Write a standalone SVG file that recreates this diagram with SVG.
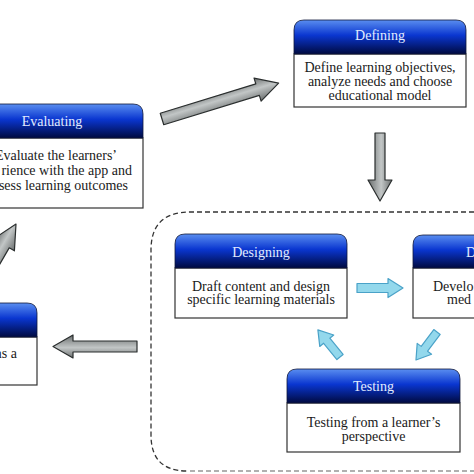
<svg xmlns="http://www.w3.org/2000/svg" width="474" height="474" viewBox="0 0 474 474">
<defs>
<linearGradient id="hdr" x1="0" y1="0" x2="0" y2="1">
<stop offset="0" stop-color="#5a8ef0"/>
<stop offset="0.45" stop-color="#0a36d0"/>
<stop offset="1" stop-color="#000a40"/>
</linearGradient>
<linearGradient id="gray" x1="0" y1="0" x2="0" y2="1">
<stop offset="0" stop-color="#6c7070"/>
<stop offset="0.45" stop-color="#c2c6c6"/>
<stop offset="1" stop-color="#6a6e6e"/>
</linearGradient>
<style>
.hdr{fill:url(#hdr);stroke:#10183a;stroke-width:0.8}
.body{fill:#fff;stroke:#333;stroke-width:1.2}
.ht{font-family:"Liberation Serif",serif;font-size:14px;fill:#e2ecff;text-anchor:middle}
.bt{font-family:"Liberation Serif",serif;font-size:14px;fill:#1a1a1a;text-anchor:middle}
.be{font-family:"Liberation Serif",serif;font-size:14px;fill:#1a1a1a;text-anchor:end}
.bs{font-family:"Liberation Serif",serif;font-size:14px;fill:#1a1a1a;text-anchor:start}
.ga{fill:url(#gray);stroke:#2a2e2e;stroke-width:1.2;stroke-linejoin:round}
.ba{fill:#93d8ec;stroke:#4aa2c8;stroke-width:1.2;stroke-linejoin:round}
.dash{fill:none;stroke:#333;stroke-width:1.3;stroke-dasharray:5 3}
.dashg{fill:none;stroke:#b0b0b0;stroke-width:2;stroke-dasharray:5 3}
</style>
</defs>
<rect width="474" height="474" fill="#fff"/>

<g id="group-border">
<path class="dash" d="M474,212 H190 Q151,212 151,250 V435 Q151,471 187,471"/>
<path class="dashg" d="M190,471 H474"/>
</g>

<g id="defining">
<rect class="body" x="294" y="54" width="172" height="53"/>
<path class="hdr" d="M294,54 V30 Q294,20 304,20 H456 Q466,20 466,30 V54 Z"/>
<text class="ht" x="380" y="40">Defining</text>
<text class="bt" x="380" y="72">Define learning objectives,</text>
<text class="bt" x="380" y="86">analyze needs and choose</text>
<text class="bt" x="380" y="100">educational model</text>
</g>

<g id="evaluating">
<rect class="body" x="-39" y="138" width="182" height="70"/>
<path class="hdr" d="M-39,138 V114 Q-39,104 -29,104 H133 Q143,104 143,114 V138 Z"/>
<text class="ht" x="52" y="126">Evaluating</text>
<text class="be" x="117" y="160">Evaluate the learners’</text>
<text class="be" x="132" y="175">rience with the app and</text>
<text class="be" x="128" y="190">sess learning outcomes</text>
</g>

<g id="using">
<rect class="body" x="-135" y="337" width="172" height="48"/>
<path class="hdr" d="M-135,337 V313 Q-135,303 -125,303 H27 Q37,303 37,313 V337 Z"/>
<text class="be" x="17" y="358">as a</text>
</g>

<g id="designing">
<rect class="body" x="175" y="268" width="172" height="50"/>
<path class="hdr" d="M175,268 V244 Q175,234 185,234 H337 Q347,234 347,244 V268 Z"/>
<text class="ht" x="261" y="257">Designing</text>
<text class="bt" x="261" y="290.5">Draft content and design</text>
<text class="bt" x="261" y="304">specific learning materials</text>
</g>

<g id="developing">
<rect class="body" x="413" y="268" width="172" height="50"/>
<path class="hdr" d="M413,268 V245 Q413,235 423,235 H575 Q585,235 585,245 V268 Z"/>
<text class="ht" x="466" y="257" style="text-anchor:start">D</text>
<text class="bs" x="433" y="290.5">Develo</text>
<text class="bs" x="447" y="304">med</text>
</g>

<g id="testing">
<rect class="body" x="287" y="403" width="173" height="49"/>
<path class="hdr" d="M287,403 V379 Q287,369 297,369 H450 Q460,369 460,379 V403 Z"/>
<text class="ht" x="373.5" y="391">Testing</text>
<text class="bt" x="373.5" y="427">Testing from a learner’s</text>
<text class="bt" x="373.5" y="440.5">perspective</text>
</g>

<g id="connectors">
<path class="ga" transform="translate(162,119) rotate(-17.1)" d="M0,-6 L100,-6 L100,-12 L122,0 L100,12 L100,6 L0,6 Z"/>
<path class="ga" transform="translate(380,133) rotate(90)" d="M0,-5 L47,-5 L47,-12 L68,0 L47,12 L47,5 L0,5 Z"/>
<path class="ga" transform="translate(137,346.5) rotate(180)" d="M0,-5.5 L64,-5.5 L64,-11.5 L84,0 L64,11.5 L64,5.5 L0,5.5 Z"/>
<path class="ga" transform="translate(-29,302) rotate(-60)" d="M0,-6 L66,-6 L66,-12 L90,0 L66,12 L66,6 L0,6 Z"/>
<path class="ba" transform="translate(357,288)" d="M0,-4.5 L31,-4.5 L31,-9.5 L46,0 L31,9.5 L31,4.5 L0,4.5 Z"/>
<path class="ba" transform="translate(340,357) rotate(-129.2)" d="M0,-4 L21,-4 L21,-9 L35,0 L21,9 L21,4 L0,4 Z"/>
<path class="ba" transform="translate(437,332) rotate(126.9)" d="M0,-4 L21,-4 L21,-9 L35,0 L21,9 L21,4 L0,4 Z"/>
</g>
</svg>
